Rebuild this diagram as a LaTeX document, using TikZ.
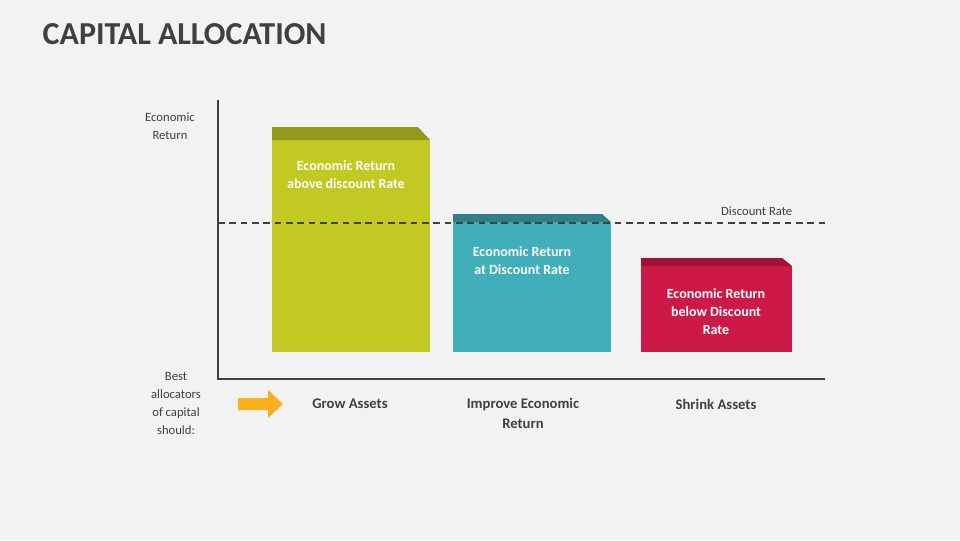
\documentclass[tikz,border=0pt]{standalone}
\usepackage{fontspec}
\setmainfont{Carlito}
\definecolor{bg}{HTML}{F2F2F2}
\definecolor{grn}{HTML}{C2C923}
\definecolor{grnd}{HTML}{95991A}
\definecolor{tl}{HTML}{40AFB9}
\definecolor{tld}{HTML}{2F8088}
\definecolor{rd}{HTML}{CC1947}
\definecolor{rdd}{HTML}{A01337}
\definecolor{ink}{HTML}{404040}
\definecolor{arr}{HTML}{F9B11B}
\begin{document}
\begin{tikzpicture}[x=0.75pt,y=-0.75pt,
  lbl/.style={font=\fontsize{10.5}{13}\selectfont,text=white,align=center,font=\bfseries\fontsize{10.5}{13.5}\selectfont},
  axl/.style={text=ink,align=center,font=\fontsize{9.5}{13.5}\selectfont},
  cat/.style={text=ink,align=center,font=\bfseries\fontsize{11}{15}\selectfont}]
\fill[bg] (0,0) rectangle (960,540);
\useasboundingbox (0,0) rectangle (960,540);
\node[anchor=west,text=ink,font=\bfseries\fontsize{24}{28}\selectfont] (title) at (38,34) {CAPITAL ALLOCATION};
% bars
\fill[grn] (272,140) rectangle (430,352);
\fill[grnd] (272,127) -- (418,127) -- (430,140) -- (272,140) -- cycle;
\fill[tl] (453,222) rectangle (611,352);
\fill[tld] (453,214) -- (602,214) -- (611,222) -- (453,222) -- cycle;
\fill[rd] (641,266) rectangle (792,352);
\fill[rdd] (641,258) -- (782,258) -- (792,266) -- (641,266) -- cycle;
\node[lbl] (g) at (346,175) {Economic Return\\above discount Rate};
\node[lbl] (t) at (522,261) {Economic Return\\at Discount Rate};
\node[lbl] (r) at (716,312) {Economic Return\\below Discount\\Rate};
% axes
\coordinate (top) at (218,100);
\coordinate (org) at (218,379);
\coordinate (xe) at (825,379);
\draw[ink,line width=1.5pt] (top) -- (org) -- (xe);
\coordinate (d1) at (218,223);
\coordinate (d2) at (828,223);
\draw[ink,line width=1.1pt,dash pattern=on 5pt off 3.5pt] (d1) -- (d2);
\node[axl,anchor=south east] (dr) at (797,220) {Discount Rate};
\node[axl] (er) at (170,126) {Economic\\Return};
\node[axl] (ba) at (176,403) {Best\\allocators\\of capital\\should:};
\node[cat] (c1) at (350,404) {Grow Assets};
\node[cat] (c2) at (523,413) {Improve Economic\\Return};
\node[cat] (c3) at (716,404) {Shrink Assets};
\fill[arr] (238,398) -- (268,398) -- (268,390) -- (283,404) -- (268,418) -- (268,410) -- (238,410) -- cycle;
\end{tikzpicture}
\end{document}
